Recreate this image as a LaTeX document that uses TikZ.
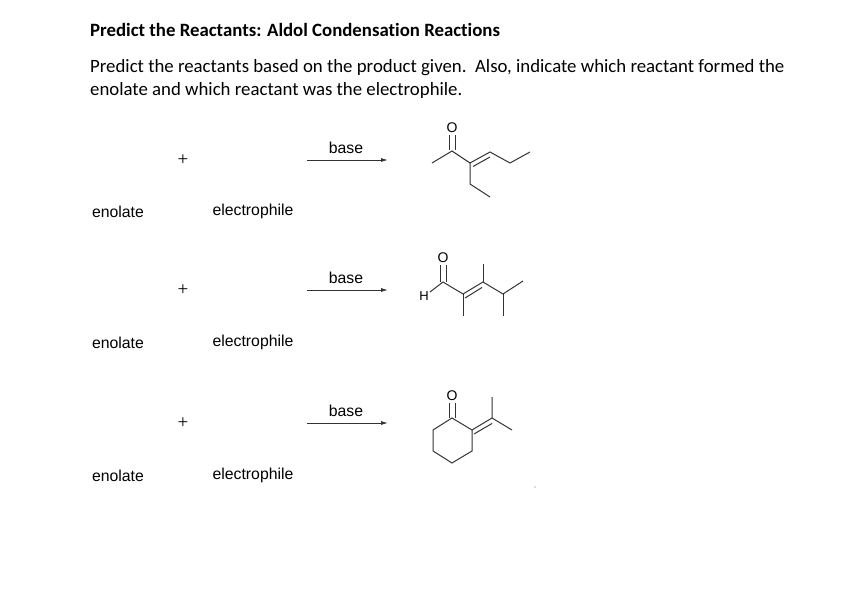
\documentclass[tikz,border=0pt]{standalone}
\usepackage{fontspec}
\setmainfont{Carlito}[Ligatures=NoCommon]
\newfontfamily\arial{Liberation Sans}
\newfontfamily\timesfnt{Liberation Serif}
\usetikzlibrary{arrows.meta}
\begin{document}
\begin{tikzpicture}[x=1pt,y=-1pt,
  lbl/.style={font=\arial\fontsize{15.8}{18}\selectfont,inner sep=0},
  bond/.style={line width=1pt,color=black!80},
  plus/.style={font=\timesfnt\fontsize{19}{19}\selectfont,inner sep=0},
  rxn/.style={line width=0.9pt,-{Latex[length=7pt,width=4pt]},color=black!80}]
\useasboundingbox (0,0) rectangle (868,604);
\node[anchor=west,inner sep=0,font=\bfseries\fontsize{18.8}{22}\selectfont] (title) at (90,30) {Predict the Reactants: Aldol Condensation Reactions};
\node[anchor=north west,inner sep=0,align=left,font=\fontsize{18.8}{23}\selectfont] (intro) at (90,59) {Predict the reactants based on the product given.\ \ Also, indicate which reactant formed the\\enolate and which reactant was the electrophile.};
\foreach \i/\y/\e in {1/160/212,2/290/343,3/423/476}{
  \node[plus] (p\i) at (183,\y) {+};
  \coordinate (a\i) at (307,\y);
  \coordinate (b\i) at (388,\y);
  \draw[rxn] (a\i) -- (b\i);
  \node[lbl] (base\i) at (346,\y-12) {base};
  \node[lbl] (en\i) at (118,\e) {enolate};
  \node[lbl] (el\i) at (253,\e-1) {electrophile};
}
% molecule 1
\node[lbl,font=\arial\fontsize{14}{14}\selectfont] (o1) at (452,128) {O};
\draw[bond] (432,163) -- (452,151) -- (470,163) -- (470,184) -- (490,197);
\draw[bond] (449,150) -- (449,135) (455,150) -- (455,135);
\draw[bond] (470,163) -- (490,152) -- (510,163) -- (530,152);
\draw[bond] (473,166.5) -- (490,157);
% molecule 2
\node[lbl,font=\arial\fontsize{14}{14}\selectfont] (o2) at (443,258) {O};
\node[lbl,font=\arial\fontsize{13}{13}\selectfont] (h2) at (424,296) {H};
\draw[bond] (430,292) -- (443,282) -- (463,294) -- (483,282) -- (503,294) -- (523,281);
\draw[bond] (440,282) -- (440,265) (446,282) -- (446,265);
\draw[bond] (465,298) -- (482,287.5);
\draw[bond] (463,294) -- (463,316) (483,282) -- (483,264) (503,294) -- (503,316);
% molecule 3
\node[lbl,font=\arial\fontsize{14}{14}\selectfont] (o3) at (452,396) {O};
\draw[bond] (452,418) -- (472,430) -- (472,451) -- (452,463) -- (433,451) -- (433,430) -- cycle;
\draw[bond] (449,418) -- (449,403) (455,418) -- (455,403);
\draw[bond] (472,430) -- (492,418) -- (492,397) (492,418) -- (512,430);
\draw[bond] (474,434) -- (492,423.5);
\fill[black!60] (535,487) circle (0.6);
\end{tikzpicture}
\end{document}
